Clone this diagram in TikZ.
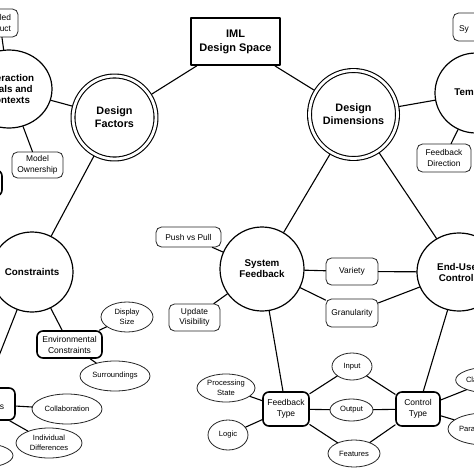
\documentclass[tikz,border=0pt]{standalone}
\usepackage{fontspec}
\setmainfont{Liberation Sans}
\usetikzlibrary{shapes.geometric}
\tikzset{
    wh/.style 2 args = {minimum width=#1pt, minimum height=#2pt},
    hub/.style = {circle, draw, double, double distance=2.8pt, line width=1.1pt, inner sep=0pt, outer sep=2.5pt, align=center, font=\fontsize{10.8}{13}\selectfont\bfseries},
    topic/.style = {ellipse, draw, line width=1.2pt, inner sep=0pt, align=center, font=\fontsize{9.8}{11}\selectfont\bfseries},
    group/.style = {rectangle, draw, rounded corners=6pt, line width=1.6pt, inner sep=0pt, align=center, font=\fontsize{8.5}{11}\selectfont},
    tag/.style = {rectangle, draw=black!85, rounded corners=5.5pt, line width=0.8pt, inner sep=0pt, align=center, font=\fontsize{8.4}{10.5}\selectfont},
    leaf/.style = {ellipse, draw=black!85, line width=0.8pt, inner sep=0pt, align=center, font=\fontsize{7.6}{9.5}\selectfont},
    link/.style = {line width=1.1pt}
}

\begin{document}
\begin{tikzpicture}[line cap=round,line join=round,x=1pt,y=-1pt]
    \useasboundingbox (0,0) rectangle (474,474);
    \fill [white] (0,0) rectangle (474,474);
    \clip (0,0) rectangle (474,474);

    % root and the two halves
    \node [draw, line width=1.8pt, wh={89}{47}, align=center, font=\fontsize{11}{14}\selectfont\bfseries] (iml) at (235.5,41.5) {IML\\Design Space};
    \node [hub, minimum size=83pt] (df) at (114.5,117.5) {Design\\Factors};
    \node [hub, minimum size=88pt] (dd) at (353.5,114.5) {Design\\Dimensions};

    \node [topic, wh={86}{78}] (igc) at (9,89) {Interaction\\Goals and\\Contexts};
    \node [topic, wh={82}{80}] (con) at (32,272) {Constraints};
    \node [topic, wh={82}{80}] (tmp) at (476,93) {Temporal};
    \node [topic, wh={84}{84}] (sf) at (262,269) {System\\Feedback};
    \node [topic, wh={84}{78}] (euc) at (459,272) {End-User\\Controls};

    \node [tag, wh={36}{28}, text width=22pt, align=right] (lu) at (0,23) {lled\\uct};
    \node [tag, wh={74}{28}, text width=62pt, align=left] (sy) at (490,27) {\mbox{}\\Sy};
    \node [tag, wh={51}{26}] (mo) at (37.5,165) {Model\\Ownership};
    \node [tag, wh={54}{28}] (fd) at (444,158) {Feedback\\Direction};
    \node [tag, wh={65}{20}] (pvp) at (188.5,237) {Push vs Pull};
    \node [tag, wh={51}{27}] (uv) at (194.5,317.5) {Update\\Visibility};
    \node [tag, wh={52}{27}] (var) at (352,271.5) {Variety};
    \node [tag, wh={52}{28}] (gran) at (352,313) {Granularity};

    \node [group, wh={66}{26}] (lb) at (-31,183) {};
    \node [group, wh={65}{27}] (env) at (69.5,344.5) {Environmental\\Constraints};
    \node [group, wh={70}{32}, text width=48pt, align=right] (uc) at (-20,404) {\mbox{}\\s};
    \node [group, wh={46}{34}] (ft) at (286,409) {Feedback\\Type};
    \node [group, wh={44}{34}] (ct) at (418,409) {Control\\Type};

    \node [leaf, wh={52}{30}] (ds) at (127,317) {Display\\Size};
    \node [leaf, wh={70}{30}] (sur) at (115,376) {Surroundings};
    \node [leaf, wh={70}{30}] (col) at (67,409) {Collaboration};
    \node [leaf, wh={66}{30}] (idf) at (49,443) {Individual\\Differences};
    \node [leaf, wh={66}{25}] (bl) at (-20,455.5) {};
    \node [leaf, wh={58}{28}] (ps) at (226,388) {Processing\\State};
    \node [leaf, wh={40}{30}] (lg) at (228,435) {Logic};
    \node [leaf, wh={40}{27}] (inp) at (352,366.5) {Input};
    \node [leaf, wh={43}{22}] (out) at (351.5,410) {Output};
    \node [leaf, wh={52}{27}] (feat) at (354,453.5) {Features};
    \node [leaf, wh={70}{26}, text width=50pt, align=left] (cla) at (491,380) {Cla};
    \node [leaf, wh={74}{32}, text width=52pt, align=left] (para) at (485,429) {Para};

    % connectors
    \draw [link] (iml) -- (df);
    \draw [link] (iml) -- (dd);
    \draw [link] (df) -- (igc);
    \draw [link] (df) -- (con);
    \draw [link] (igc) -- (lu);
    \draw [link] (igc) -- (mo);
    \draw [link] (con) -- (env);
    \draw [link] (con) -- (uc);
    \draw [link] (env) -- (ds);
    \draw [link] (env) -- (sur);
    \draw [link] (uc) -- (col);
    \draw [link] (uc) -- (idf);

    \draw [link] (dd) -- (tmp);
    \draw [link] (dd) -- (sf);
    \draw [link] (dd) -- (euc);
    \draw [link] (tmp) -- (fd);
    \draw [link] (sf) -- (pvp);
    \draw [link] (sf) -- (uv);
    \draw [link] (sf) -- (var) -- (euc);
    \draw [link] (sf) -- (gran) -- (euc);
    \draw [link] (sf) -- (ft);
    \draw [link] (euc) -- (ct);

    \draw [link] (ft) -- (ps);
    \draw [link] (ft) -- (lg);
    \draw [link] (ft) -- (inp) -- (ct);
    \draw [link] (ft) -- (out) -- (ct);
    \draw [link] (ft) -- (feat) -- (ct);
    \draw [link] (ct) -- (cla);
    \draw [link] (ct) -- (para);
\end{tikzpicture}
\end{document}
